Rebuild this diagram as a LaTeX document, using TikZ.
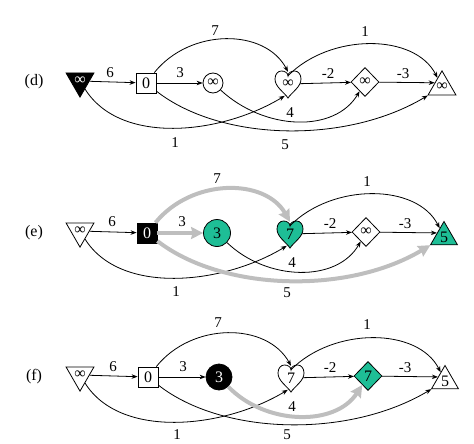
\documentclass[tikz,border=0pt]{standalone}
\usepackage{fontspec}
\setmainfont{Liberation Serif}
\usetikzlibrary{shapes.geometric,arrows.meta}
\definecolor{mint}{RGB}{30,190,150}
\definecolor{hlgray}{RGB}{190,190,190}
\newcommand\lblfont{\fontsize{15}{15}\selectfont}
\newcommand\ndfont{\fontsize{16}{16}\selectfont}
\newcommand\heartshape[2]{\draw[line width=0.8pt, fill=#2, shift={(#1)}] (0,14) .. controls (-4,8) and (-13,3) .. (-13,-5) .. controls (-13,-10) and (-10,-13) .. (-6.5,-13) .. controls (-3,-13) and (0,-11) .. (0,-8) .. controls (0,-11) and (3,-13) .. (6.5,-13) .. controls (10,-13) and (13,-10) .. (13,-5) .. controls (13,3) and (4,8) .. (0,14) -- cycle;}
\tikzset{
  lbl/.style={font=\lblfont, inner sep=1pt},
  plbl/.style={font=\ndfont, inner sep=1pt},
  edge/.style={draw, line width=0.8pt, -{Stealth[length=6pt,width=4.5pt]}},
  hi/.style={draw=hlgray, line width=4pt, -{Stealth[length=12pt,width=12pt,inset=1.5pt]}},
  nd/.style={draw, line width=0.8pt, inner sep=0pt, font=\ndfont},
  sq/.style={nd, rectangle, minimum size=20pt},
  circ/.style={nd, circle, minimum size=20pt},
  bigcirc/.style={nd, circle, minimum size=27pt},
  dtri/.style={nd, regular polygon, regular polygon sides=3, shape border rotate=180, minimum size=32pt},
  utri/.style={nd, regular polygon, regular polygon sides=3, minimum size=31pt},
  dia/.style={nd, diamond, minimum width=28pt, minimum height=29pt},
  hrt/.style={circle, minimum size=24pt, inner sep=0pt, font=\ndfont},
}
\begin{document}
\begin{tikzpicture}[x=1pt, y=-1pt]
\useasboundingbox (0,0) rectangle (474,444);
% ---------------- (d)
\begin{scope}[shift={(0,83)}]
\node[plbl] (dl) at (34,-1) {(d)};
\node[dtri, fill=black, text=white] (d0) at (80,-2) {∞};
\node[sq] (d1) at (146,0) {0};
\node[circ] (d2) at (213,0) {∞};
\coordinate (d3c) at (288,1);
\heartshape{d3c}{white}
\node[hrt] (d3) at (d3c) {∞};
\node[dia] (d4) at (365,-1) {∞};
\node[utri] (d5) at (442,4) {∞};
\draw[edge] (d0) -- (d1) node[lbl] at (110,-10) {6};
\draw[edge] (d1) -- (d2) node[lbl] at (180,-10) {3};
\draw[edge] (d3) -- (d4) node[lbl] at (328,-9) {-2};
\draw[edge] (d4) -- (d5.side 1) node[lbl] at (403,-9) {-3};
\draw[edge] (d1) .. controls (190,-55) and (265,-55) .. (d3.north) node[lbl] at (215,-52) {7};
\draw[edge] ([yshift=-4pt]d3.north) .. controls (330,-50) and (415,-50) .. (d5) node[lbl] at (365,-51) {1};
\draw[edge] (d0) .. controls (120,62) and (220,52) .. (d3.-105) node[lbl] at (175,60) {1};
\draw[edge] (d2) .. controls (265,48) and (335,50) .. (d4) node[lbl] at (290,30) {4};
\draw[edge] (d1) .. controls (220,58) and (345,62) .. (d5) node[lbl] at (285,62) {5};
\end{scope}
% ---------------- (e)
\begin{scope}[shift={(0,233)}]
\node[plbl] (el) at (34,0) {(e)};
\node[dtri, fill=white] (e0) at (80,-2) {∞};
\node[sq, fill=black, text=white] (e1) at (147,0) {0};
\node[bigcirc, fill=mint] (e2) at (217,0) {3};
\coordinate (e3c) at (290,1);
\heartshape{e3c}{mint}
\node[hrt] (e3) at (e3c) {7};
\node[dia] (e4) at (366,-1) {∞};
\node[utri, fill=mint] (e5) at (444,4) {5};
\draw[edge] (e0) -- (e1) node[lbl] at (112,-11) {6};
\draw[hi] (e1) -- (e2) node[lbl] at (182,-11) {3};
\draw[edge] (e3) -- (e4) node[lbl] at (330,-9) {-2};
\draw[edge] (e4) -- (e5.side 1) node[lbl] at (405,-9) {-3};
\draw[edge] (e0) .. controls (120,62) and (222,52) .. (e3.-105) node[lbl] at (176,59) {1};
\draw[edge] (e2) .. controls (267,48) and (337,50) .. (e4) node[lbl] at (292,30) {4};
\draw[edge] ([yshift=-4pt]e3.north) .. controls (332,-50) and (417,-50) .. (e5) node[lbl] at (367,-51) {1};
\draw[hi] (e1) .. controls (192,-55) and (265,-55) .. (e3.north) node[lbl] at (217,-54) {7};
\draw[hi] (e1) .. controls (222,58) and (347,62) .. (e5) node[lbl] at (287,60) {5};
\end{scope}
% ---------------- (f)
\begin{scope}[shift={(0,377)}]
\node[plbl] (fl) at (34,0) {(f)};
\node[dtri, fill=white] (f0) at (80,-2) {∞};
\node[sq] (f1) at (148,0) {0};
\node[bigcirc, fill=black, text=white, minimum size=26pt] (f2) at (219,0) {3};
\coordinate (f3c) at (291,1);
\heartshape{f3c}{white}
\node[hrt] (f3) at (f3c) {7};
\node[dia, fill=mint] (f4) at (368,-1) {7};
\node[utri] (f5) at (445,4) {5};
\draw[edge] (f0) -- (f1) node[lbl] at (113,-10) {6};
\draw[edge] (f1) -- (f2) node[lbl] at (183,-10) {3};
\draw[edge] (f3) -- (f4) node[lbl] at (330,-9) {-2};
\draw[edge] (f4) -- (f5.side 1) node[lbl] at (405,-9) {-3};
\draw[edge] (f1) .. controls (192,-55) and (267,-55) .. (f3.north) node[lbl] at (218,-54) {7};
\draw[edge] ([yshift=-4pt]f3.north) .. controls (333,-50) and (418,-50) .. (f5) node[lbl] at (367,-52) {1};
\draw[edge] (f0) .. controls (120,62) and (223,52) .. (f3.-105) node[lbl] at (177,58) {1};
\draw[edge] (f1) .. controls (222,58) and (348,62) .. (f5) node[lbl] at (287,58) {5};
\draw[hi] (f2) .. controls (265,48) and (335,50) .. (f4) node[lbl] at (292,30) {4};
\end{scope}
\end{tikzpicture}
\end{document}
